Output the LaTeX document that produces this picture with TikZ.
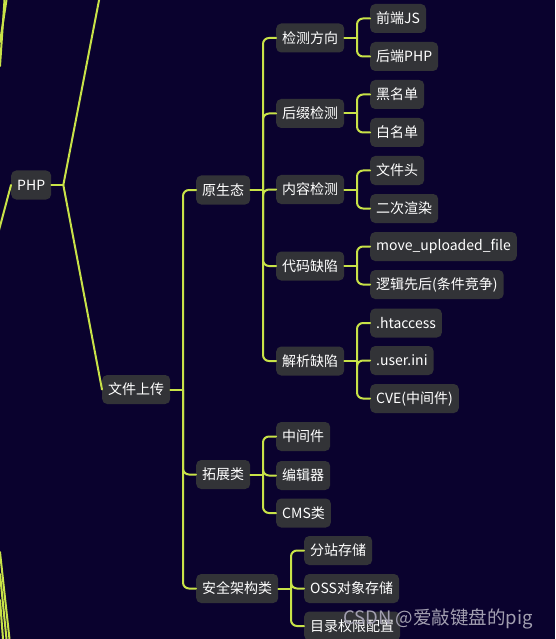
\documentclass[tikz,border=0pt]{standalone}
\usepackage{fontspec}
\setmainfont{Noto Sans CJK SC}
\definecolor{bgnavy}{RGB}{10,2,46}
\definecolor{boxgray}{RGB}{50,51,55}
\definecolor{linegreen}{RGB}{200,226,72}
\begin{document}
\begin{tikzpicture}[x=1pt,y=-1pt,line join=round,line cap=round,
	topic/.style={anchor=west,fill=boxgray,text=white,rounded corners=5pt,minimum height=29pt,inner xsep=6pt,inner ysep=0pt,font=\fontsize{14}{14}\selectfont},
	link/.style={draw=linegreen,line width=2pt,rounded corners=6pt}]
	\fill[bgnavy] (0,0) rectangle (555,639);
	\useasboundingbox (0,0) rectangle (555,639);
	\clip (0,0) rectangle (555,639);
	% root and first level
	\node[topic] (php) at (11,185) {PHP};
	\node[topic] (upload) at (102,389.5) {文件上传};
	\node[topic] (native) at (196,190) {原生态};
	\node[topic] (ext) at (196,474.5) {拓展类};
	\node[topic] (secure) at (196,588.5) {安全架构类};
	% second level
	\node[topic] (dir) at (276,38) {检测方向};
	\node[topic] (suffix) at (276,113.5) {后缀检测};
	\node[topic] (content) at (276,189.5) {内容检测};
	\node[topic] (code) at (276,266) {代码缺陷};
	\node[topic] (parse) at (276,361) {解析缺陷};
	\node[topic] (mid) at (276,436.5) {中间件};
	\node[topic] (editor) at (276,475.5) {编辑器};
	\node[topic] (cms) at (276,513) {CMS类};
	\node[topic] (sub) at (304,550.5) {分站存储};
	\node[topic] (oss) at (304,588.5) {OSS对象存储};
	\node[topic] (perm) at (304,626) {目录权限配置};
	% leaves
	\node[topic] (front) at (370,18.5) {前端JS};
	\node[topic] (back) at (370,56.5) {后端PHP};
	\node[topic] (black) at (370,94.5) {黑名单};
	\node[topic] (white) at (370,132.5) {白名单};
	\node[topic] (head) at (370,170.5) {文件头};
	\node[topic] (render) at (370,208.5) {二次渲染};
	\node[topic] (move) at (370,246.5) {move\_uploaded\_file};
	\node[topic] (race) at (370,284.5) {逻辑先后(条件竞争)};
	\node[topic] (htac) at (370,323) {.htaccess};
	\node[topic] (userini) at (370,360.5) {.user.ini};
	\node[topic] (cve) at (370,398.5) {CVE(中间件)};
	% lines running off the picture
	\coordinate (up) at (101,-10);
	\coordinate (par) at (-6,249);
	\draw[link] (php.west) -- (par);
	\draw[link] (0,66) -- (4.5,0);
	\draw[link] (0,42) -- (6.5,0);
	\draw[link] (0,552) -- (9.5,639);
	\draw[link] (0,574) -- (6.5,639);
	\draw[link] (0,600) -- (3,639);
	% root branches
	\draw[link] (php.east) -- ++(12,0) coordinate (s0);
	\draw[link] (s0) -- (up);
	\draw[link] (s0) -- (upload.west);
	% tree branches
	\foreach \p/\f/\kids in {upload/native/{native,ext,secure},
		native/dir/{dir,suffix,content,code,parse},
		dir/front/{front,back},suffix/black/{black,white},content/head/{head,render},
		code/move/{move,race},parse/htac/{htac,userini,cve},
		ext/mid/{mid,editor,cms},secure/sub/{sub,oss,perm}}{
		\path (\p.east -| \f.west) ++(-13,0) coordinate (s);
		\draw[link] (\p.east) -- (s);
		\foreach \c in \kids \draw[link] (s) |- (\c.west);
	}
	\node[anchor=west,inner xsep=0pt,text=white!62!bgnavy,font=\fontsize{18.5}{18.5}\selectfont] (wmark) at (343,619) {CSDN @爱敲键盘的pig};
\end{tikzpicture}
\end{document}
